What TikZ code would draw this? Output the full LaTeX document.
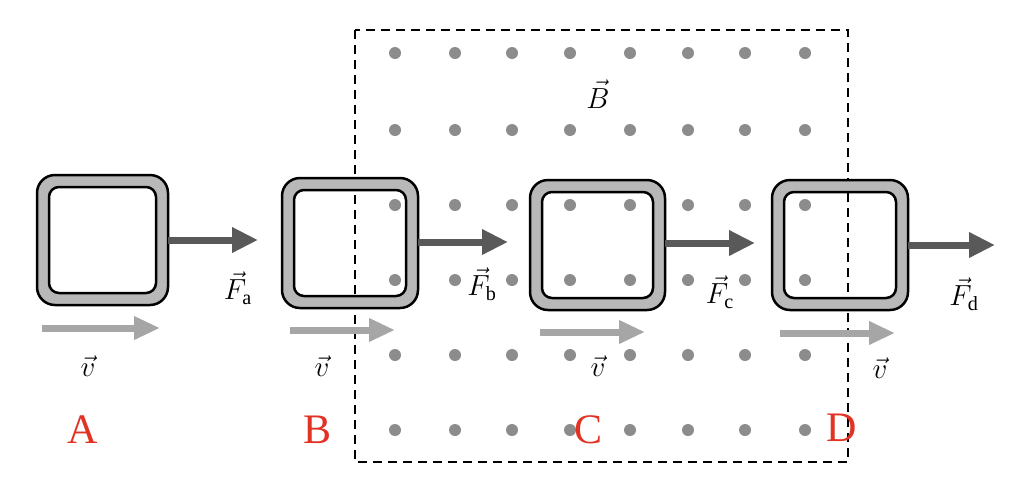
\documentclass[tikz,border=0pt]{standalone}
\usepackage{fontspec}
\setmainfont{Liberation Serif}
\usetikzlibrary{arrows.meta}
\definecolor{ringgray}{gray}{0.72}
\definecolor{dotgray}{gray}{0.55}
\definecolor{fgray}{gray}{0.35}
\definecolor{vgray}{gray}{0.65}
\definecolor{lred}{RGB}{225,50,35}
\tikzset{
  dotB/.style={fill=dotgray,draw=none},
  farrow/.style={draw=fgray,line width=7pt,-{Triangle[length=26pt,width=24pt]}},
  varrow/.style={draw=vgray,line width=7pt,-{Triangle[length=26pt,width=22pt]}},
  lab/.style={font=\huge,scale=1.4,transform shape},
  letter/.style={text=lred,font=\fontsize{42}{44}\selectfont}
}
\begin{document}
\begin{tikzpicture}[x=1pt,y=-1pt]
\useasboundingbox (0,0) rectangle (1024,483);
\fill[white] (0,0) rectangle (1024,483);
\draw[line width=1.6pt,dash pattern=on 9pt off 6pt] (355,30) rectangle (848,462);
\foreach \x in {395,455,512,570,630,688,745,805}
  \foreach \y in {53,130,205,280,355,430}
    \fill[dotB] (\x,\y) circle (6);
\foreach \n/\a/\b/\c/\d in {A/37/175/168/305,B/282/178/418/308,C/530/180/665/310,D/772/180/908/310}{
  \fill[ringgray,even odd rule,rounded corners=18pt] (\a,\b) rectangle (\c,\d) [rounded corners=10pt] (\a+12,\b+12) rectangle (\c-12,\d-12);
  \draw[line width=2.5pt,rounded corners=18pt] (\a,\b) rectangle (\c,\d);
  \draw[line width=2.5pt,rounded corners=10pt] (\a+12,\b+12) rectangle (\c-12,\d-12);
}
\coordinate (Ae) at (168,240); \coordinate (At) at (258,240);
\coordinate (Be) at (418,242); \coordinate (Bt) at (508,242);
\coordinate (Ce) at (665,243); \coordinate (Ct) at (755,243);
\coordinate (De) at (908,245); \coordinate (Dt) at (995,245);
\draw[farrow] (Ae) -- (At);
\draw[farrow] (Be) -- (Bt);
\draw[farrow] (Ce) -- (Ct);
\draw[farrow] (De) -- (Dt);
\coordinate (Av0) at (42,328); \coordinate (Av1) at (160,328);
\coordinate (Bv0) at (290,330); \coordinate (Bv1) at (395,330);
\coordinate (Cv0) at (540,332); \coordinate (Cv1) at (645,332);
\coordinate (Dv0) at (780,333); \coordinate (Dv1) at (895,333);
\draw[varrow] (Av0) -- (Av1);
\draw[varrow] (Bv0) -- (Bv1);
\draw[varrow] (Cv0) -- (Cv1);
\draw[varrow] (Dv0) -- (Dv1);
\node[lab] (fa) at (238,288) {$\vec F_{\mathrm a}$};
\node[lab] (fb) at (482,284) {$\vec F_{\mathrm b}$};
\node[lab] (fc) at (720,292) {$\vec F_{\mathrm c}$};
\node[lab] (fd) at (964,294) {$\vec F_{\mathrm d}$};
\node[lab] (va) at (88,366) {$\vec v$};
\node[lab] (vb) at (322,366) {$\vec v$};
\node[lab] (vc) at (598,366) {$\vec v$};
\node[lab] (vd) at (880,368) {$\vec v$};
\node[lab] (bf) at (598,94) {$\vec B$};
\node[letter] (la) at (83,430) {A};
\node[letter] (lb) at (318,430) {B};
\node[letter] (lc) at (588,430) {C};
\node[letter] (ld) at (842,428) {D};
\end{tikzpicture}
\end{document}
